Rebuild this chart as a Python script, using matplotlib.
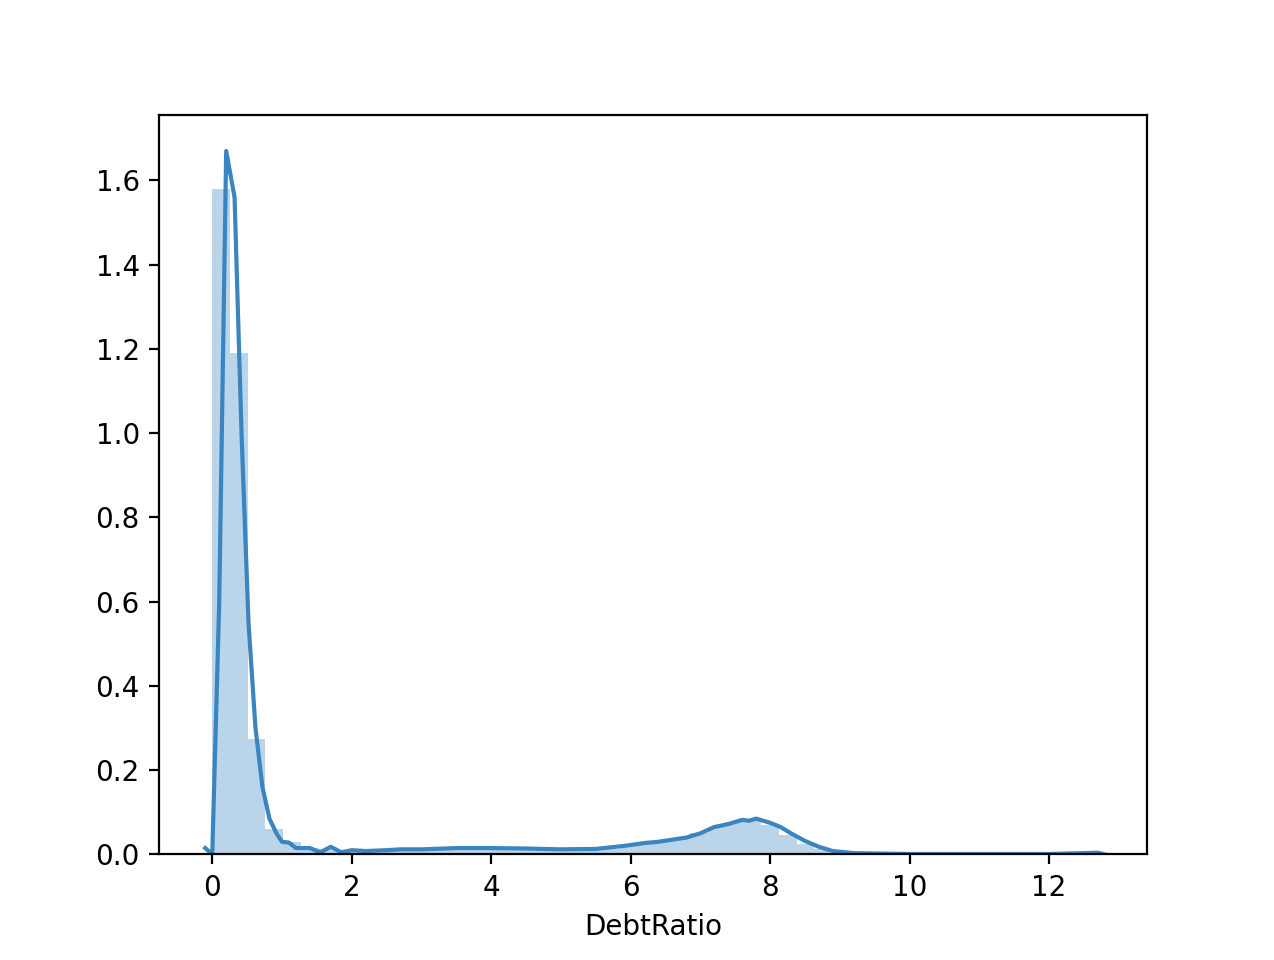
import numpy as np
import matplotlib
matplotlib.use("Agg")
import matplotlib.pyplot as plt

bin_start = 0.0
bin_width = 0.254
hist_heights = [1.58, 1.19, 0.275, 0.06, 0.03, 0.015, 0.012, 0.01, 0.009, 0.01,
                0.01, 0.011, 0.013, 0.014, 0.015, 0.015, 0.015, 0.014, 0.013, 0.012,
                0.011, 0.012, 0.014, 0.02, 0.026, 0.032, 0.038, 0.05, 0.065, 0.076,
                0.08, 0.07, 0.045, 0.025, 0.012, 0.005, 0.002, 0.001, 0.001, 0.001,
                0.001, 0.001, 0.0008, 0.0008, 0.0006, 0.0006, 0.0005, 0.0005, 0.0005, 0.002]

kde_x = [-0.1, 0.0, 0.1, 0.2, 0.32, 0.42, 0.52, 0.62, 0.72, 0.82, 0.92, 1.0, 1.1, 1.2, 1.4,
         1.55, 1.7, 1.85, 2.0, 2.2, 2.5, 2.7, 3.0, 3.5, 4.0, 4.5, 5.0, 5.5, 5.9, 6.2, 6.4,
         6.6, 6.8, 7.0, 7.2, 7.4, 7.6, 7.7, 7.8, 8.0, 8.15, 8.3, 8.5, 8.7, 8.9, 9.2, 10.0,
         12.0, 12.7, 12.8]
kde_y = [0.015, 0.0, 0.6, 1.67, 1.56, 1.0, 0.55, 0.3, 0.16, 0.085, 0.05, 0.03, 0.028, 0.015, 0.015,
         0.005, 0.018, 0.005, 0.01, 0.008, 0.01, 0.012, 0.012, 0.015, 0.015, 0.014, 0.012, 0.013, 0.02, 0.027, 0.03,
         0.035, 0.04, 0.05, 0.065, 0.072, 0.082, 0.08, 0.085, 0.075, 0.065, 0.05, 0.032, 0.018, 0.008, 0.003, 0.001,
         0.001, 0.004, 0.0]

color = "#3a85c0"
fig, ax = plt.subplots(figsize=(6.37, 4.8), dpi=200)
edges = bin_start + bin_width * np.arange(len(hist_heights))
ax.bar(edges, hist_heights, width=bin_width, align="edge", color=color, alpha=0.35, linewidth=0)
ax.plot(kde_x, kde_y, color=color, linewidth=1.5)
ax.set_xlim(-0.76, 13.4)
ax.set_ylim(0, 1.755)
ax.set_xticks([0, 2, 4, 6, 8, 10, 12])
ax.set_xlabel("DebtRatio")
fig.savefig("out.png")
